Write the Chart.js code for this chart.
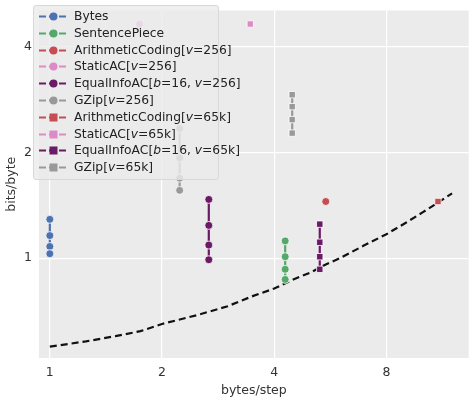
<!DOCTYPE html>
<html><head>
<script src="https://cdn.jsdelivr.net/npm/chart.js@4"></script>
<style>
body{margin:0;background:#fff;font-family:"DejaVu Sans",sans-serif;}
#wrap{position:relative;width:474px;height:413px;}
#leg{position:absolute;left:33px;top:5px;width:184px;background:rgba(235,235,235,0.8);border:1px solid #d8d8d8;border-radius:3px;padding:2px 0 3px;font-size:12.3px;color:#222;}
#leg div{height:16.8px;line-height:16.8px;white-space:nowrap;}
#leg svg{vertical-align:middle;margin:0 6px 0 5px;}
</style></head><body>
<div id="wrap"><canvas id="c" width="474" height="413"></canvas><div id="leg"></div></div>
<script>
const names=["Bytes","SentencePiece","ArithmeticCoding[<i>v</i>=256]","StaticAC[<i>v</i>=256]","EqualInfoAC[<i>b</i>=16, <i>v</i>=256]","GZip[<i>v</i>=256]","ArithmeticCoding[<i>v</i>=65k]","StaticAC[<i>v</i>=65k]","EqualInfoAC[<i>b</i>=16, <i>v</i>=65k]","GZip[<i>v</i>=65k]"];
const colors=["#4c72b0","#55a868","#c44e52","#dd8bc6","#6b1a66","#999999","#c44e52","#dd8bc6","#6b1a66","#999999"];
const shapes=["circle","circle","circle","circle","circle","circle","rect","rect","rect","rect"];
const xs=[[1,1,1,1],[4.28,4.28,4.28,4.28],[5.5],[1.74],[2.67,2.67,2.67,2.67],[2.23,2.23,2.23,2.23],[11.0],[3.45],[5.3,5.3,5.3,5.3],[4.47,4.47,4.47,4.47]];
const ys=[[1.29,1.16,1.08,1.03],[1.12,1.01,0.93,0.87],[1.45],[4.64],[1.47,1.24,1.09,0.99],[2.34,1.93,1.69,1.56],[1.45],[4.64],[1.25,1.11,1.01,0.93],[2.92,2.70,2.48,2.27]];
const fitX=[1,1.25,1.5,1.75,2,2.5,3,3.5,4,4.5,5,5.5,6,7,8,9,10,11,12];
const fitY=[0.56,0.58,0.60,0.62,0.65,0.69,0.73,0.78,0.82,0.87,0.91,0.96,1.0,1.09,1.17,1.26,1.35,1.44,1.53];
const xTicks=[1,2,4,8], yTicks=[1,2,4];

const datasets=names.map((n,i)=>({label:n,data:xs[i].map((x,j)=>({x,y:ys[i][j]})),borderColor:colors[i],backgroundColor:colors[i],pointStyle:shapes[i],pointRadius:shapes[i]=="rect"?4.5:4,pointBorderColor:"#fff",pointBorderWidth:0.8,borderWidth:2.2,showLine:true}));
datasets.push({label:"fit",data:fitX.map((x,j)=>({x,y:fitY[j]})),borderColor:"#111",borderDash:[7,4],borderWidth:2.2,pointRadius:0,showLine:true,tension:0});

const bg={id:"bg",beforeDraw(c){const a=c.chartArea,g=c.ctx;g.save();g.fillStyle="#ebebeb";g.fillRect(a.left,a.top,a.right-a.left,a.bottom-a.top);g.restore();}};
const tk=v=>(s=>{s.ticks=v.map(t=>({value:t}));});
new Chart(document.getElementById("c"),{type:"scatter",data:{datasets},plugins:[bg],
options:{responsive:false,animation:false,layout:{padding:{top:3,right:2,bottom:11,left:0}},
plugins:{legend:{display:false},tooltip:{enabled:false}},
scales:{
x:{type:"logarithmic",min:0.935,max:13.3,afterBuildTicks:tk(xTicks),grid:{color:"#fff",lineWidth:1.2,drawTicks:true,tickColor:"#fff",tickLength:4},border:{display:false},
ticks:{color:"#333",font:{size:12.5,family:"DejaVu Sans"},callback:v=>String(v),maxRotation:0},
title:{display:true,text:"bytes/step",color:"#333",font:{size:12.5,family:"DejaVu Sans"},padding:{top:0}}},
y:{type:"logarithmic",min:0.52,max:5.07,afterBuildTicks:tk(yTicks),grid:{color:"#fff",lineWidth:1.2,tickColor:"#fff",tickLength:4},border:{display:false},
ticks:{color:"#333",font:{size:12.5,family:"DejaVu Sans"},callback:v=>String(v)},
title:{display:true,text:"bits/byte",color:"#333",font:{size:12.5,family:"DejaVu Sans"},padding:{bottom:2}}}}}});

const leg=document.getElementById("leg");
names.forEach((n,i)=>{const m=shapes[i]=="rect"?`<rect x="10.5" y="3.5" width="8" height="8" fill="${colors[i]}"/>`:`<circle cx="14.5" cy="7.5" r="4" fill="${colors[i]}"/>`;
leg.innerHTML+=`<div><svg width="29" height="15"><line x1="0" y1="7.5" x2="29" y2="7.5" stroke="${colors[i]}" stroke-width="2.2" stroke-dasharray="7,3"/>${m}</svg>${n}</div>`;});
</script></body></html>
